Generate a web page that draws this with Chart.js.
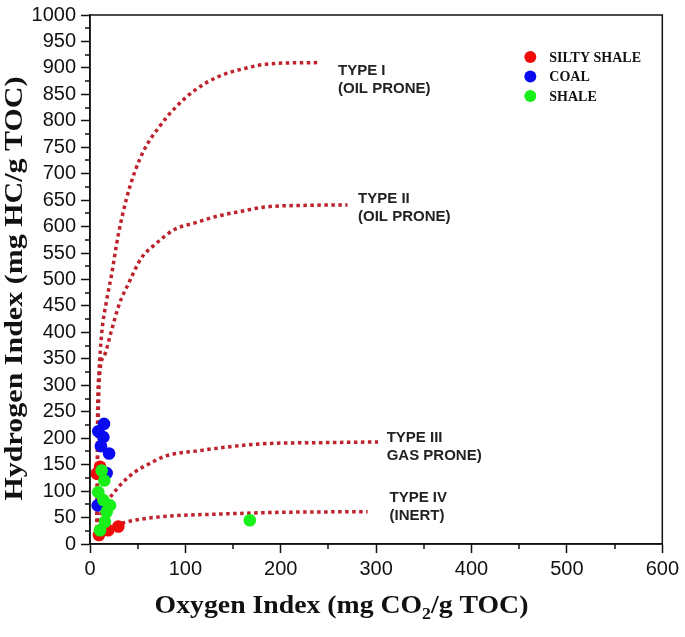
<!DOCTYPE html>
<html>
<head>
<meta charset="utf-8">
<title>HI vs OI</title>
<script src="https://cdn.jsdelivr.net/npm/chart.js@4.4.1/dist/chart.umd.min.js"></script>
<style>
  html, body { margin: 0; padding: 0; background: #fff; }
  canvas { display: block; }
</style>
</head>
<body>
<canvas id="chart" width="685" height="637"></canvas>
<script>
// sample points (OI = oxygen index, HI = hydrogen index)
const siltyShaleOI = [10.5, 7, 9.4, 10.8, 19, 29.7];
const siltyShaleHI = [146, 133, 17, 26, 26, 33];
const coalOI = [14.7, 8.7, 14, 11.5, 20, 17.5, 8];
const coalHI = [227, 213, 202, 185, 171, 134, 73];
const shaleOI = [12.2, 15, 8.7, 14, 21, 17.5, 15.7, 10.5, 167.5];
const shaleHI = [139, 120, 98, 83, 73, 61, 42, 26, 45];

// kerogen type boundary curves
const type1OI = [7, 7.5, 8, 9.4, 12.2, 17.4, 22.7, 29.7, 38.4, 47, 57.6, 71.5, 89, 110, 134, 162, 190, 239];
const type1HI = [15, 120, 250, 322, 397, 460, 510, 585, 654, 704, 748, 786, 824, 858, 883, 899, 908, 910];
const type2OI = [7.5, 8, 9, 10.5, 15.7, 22, 31, 40, 54, 68, 89, 110, 134, 159, 183, 222, 270];
const type2HI = [15, 150, 270, 328, 359, 400, 455, 491, 541, 566, 595, 607, 620, 629, 637, 640, 641];
const type3OI = [8, 10, 17.5, 22.7, 33, 47, 64.6, 78.5, 117, 152, 187, 239, 302];
const type3HI = [15, 45, 80, 92, 114, 136, 154, 166, 177, 185, 190, 191.5, 193];
const type4OI = [9, 15, 22, 33, 47, 82, 134, 204, 291];
const type4HI = [12, 22, 33, 39, 45, 52.7, 56.5, 60, 61];

const xTicksStep = 100;
const yTicksStep = 50;

function toPoints(xs, ys) {
  return xs.map(function (v, i) { return { x: v, y: ys[i] }; });
}

const curveColor = "rgb(190, 35, 45)";
function curve(label, xs, ys) {
  return {
    type: "line",
    label: label,
    data: toPoints(xs, ys),
    borderColor: curveColor,
    borderWidth: 3.5,
    borderDash: [3.5, 3.5],
    pointRadius: 0,
    cubicInterpolationMode: "monotone",
    fill: false,
    order: 5
  };
}
function samples(label, xs, ys, color, order) {
  return {
    type: "scatter",
    label: label,
    data: toPoints(xs, ys),
    backgroundColor: color,
    borderWidth: 0,
    pointRadius: 6.3,
    order: order
  };
}

const curveLabels = [
  { lines: ["TYPE I", "(OIL PRONE)"], x: 260, y: 895 },
  { lines: ["TYPE II", "(OIL PRONE)"], x: 281, y: 653 },
  { lines: ["TYPE III", "GAS PRONE)"], x: 311, y: 201 },
  { lines: ["TYPE IV", "(INERT)"], x: 314, y: 87 }
];

// draws text stretched horizontally by sx, centred on cx
function stretchedText(ctx, parts, cx, cy, sx) {
  let total = 0;
  parts.forEach(function (p) { ctx.font = p.font; p.w = ctx.measureText(p.text).width; total += p.w; });
  ctx.save();
  ctx.translate(cx, cy);
  ctx.scale(sx, 1);
  let tx = -total / 2;
  ctx.textAlign = "left";
  parts.forEach(function (p) {
    ctx.font = p.font;
    ctx.fillText(p.text, tx, p.dy || 0);
    tx += p.w;
  });
  ctx.restore();
}

const extras = {
  id: "extras",
  afterDraw: function (chart) {
    const ctx = chart.ctx;
    const a = chart.chartArea;
    const x = chart.scales.x;
    const y = chart.scales.y;
    ctx.save();

    // frame
    ctx.strokeStyle = "#111";
    ctx.lineWidth = 1.5;
    ctx.strokeRect(a.left, a.top, a.right - a.left, a.bottom - a.top);

    // minor ticks
    ctx.beginPath();
    for (let v = xTicksStep / 2; v < 600; v += xTicksStep) {
      const px = Math.round(x.getPixelForValue(v));
      ctx.moveTo(px, a.bottom);
      ctx.lineTo(px, a.bottom + 5);
    }
    for (let v = yTicksStep / 2; v < 1000; v += yTicksStep) {
      const py = Math.round(y.getPixelForValue(v));
      ctx.moveTo(a.left - 5, py);
      ctx.lineTo(a.left, py);
    }
    ctx.stroke();

    // curve labels
    ctx.fillStyle = "#222";
    ctx.font = "bold 15px 'Liberation Sans', Arial, sans-serif";
    ctx.textBaseline = "middle";
    ctx.textAlign = "left";
    curveLabels.forEach(function (l) {
      const px = x.getPixelForValue(l.x);
      const py = y.getPixelForValue(l.y);
      l.lines.forEach(function (t, i) { ctx.fillText(t, px, py + i * 18); });
    });

    // legend
    const legendItems = [chart.data.datasets[1], chart.data.datasets[2], chart.data.datasets[0]];
    ctx.font = "bold 14px 'Liberation Serif', 'Times New Roman', serif";
    legendItems.forEach(function (ds, i) {
      const cy = a.top + 42 + i * 19.5;
      ctx.beginPath();
      ctx.fillStyle = ds.backgroundColor;
      ctx.arc(a.right - 132, cy, 6, 0, Math.PI * 2);
      ctx.fill();
      ctx.fillStyle = "#111";
      ctx.fillText(ds.label, a.right - 113, cy + 1);
    });

    // axis titles
    ctx.fillStyle = "#111";
    const bigFont = "bold 25px 'Liberation Serif', 'Times New Roman', serif";
    const subFont = "bold 16px 'Liberation Serif', 'Times New Roman', serif";
    ctx.save();
    ctx.translate(16, (a.top + a.bottom) / 2 + 9);
    ctx.rotate(-Math.PI / 2);
    stretchedText(ctx, [{ text: "Hydrogen Index (mg HC/g TOC)", font: bigFont }], 0, 0, 1.2);
    ctx.restore();

    stretchedText(ctx, [
      { text: "Oxygen Index (mg CO", font: bigFont },
      { text: "2", font: subFont, dy: 8 },
      { text: "/g TOC)", font: bigFont }
    ], chart.width / 2 - 1, 607, 1.11);

    ctx.restore();
  }
};

const tickFont = { family: "'Liberation Sans', Arial, sans-serif", size: 20, lineHeight: 1 };
const plainTick = function (v) { return String(v); };

new Chart(document.getElementById("chart").getContext("2d"), {
  data: {
    datasets: [
      samples("SHALE", shaleOI, shaleHI, "rgb(25, 240, 25)", 0),
      samples("SILTY SHALE", siltyShaleOI, siltyShaleHI, "rgb(240, 10, 10)", 1),
      samples("COAL", coalOI, coalHI, "rgb(10, 10, 240)", 2),
      curve("Type I", type1OI, type1HI),
      curve("Type II", type2OI, type2HI),
      curve("Type III", type3OI, type3HI),
      curve("Type IV", type4OI, type4HI)
    ]
  },
  options: {
    responsive: false,
    animation: false,
    devicePixelRatio: 1,
    layout: { padding: { top: 13, right: 22, left: 0, bottom: 0 } },
    plugins: {
      legend: { display: false },
      tooltip: { enabled: false },
      title: { display: false }
    },
    scales: {
      x: {
        type: "linear",
        min: 0,
        max: 600,
        ticks: { stepSize: xTicksStep, autoSkip: false, color: "#111", font: tickFont, padding: 6, callback: plainTick },
        grid: { drawOnChartArea: false, drawTicks: true, tickLength: 9, tickColor: "#111", tickWidth: 1.5 },
        border: { color: "#111", width: 1.5 },
        afterFit: function (s) { s.height = 93; }
      },
      y: {
        type: "linear",
        min: 0,
        max: 1000,
        ticks: { stepSize: yTicksStep, autoSkip: false, color: "#111", font: tickFont, padding: 5, callback: plainTick },
        grid: { drawOnChartArea: false, drawTicks: true, tickLength: 9, tickColor: "#111", tickWidth: 1.5 },
        border: { color: "#111", width: 1.5 },
        afterFit: function (s) { s.width = 90; }
      }
    }
  },
  plugins: [extras]
});
</script>
</body>
</html>
